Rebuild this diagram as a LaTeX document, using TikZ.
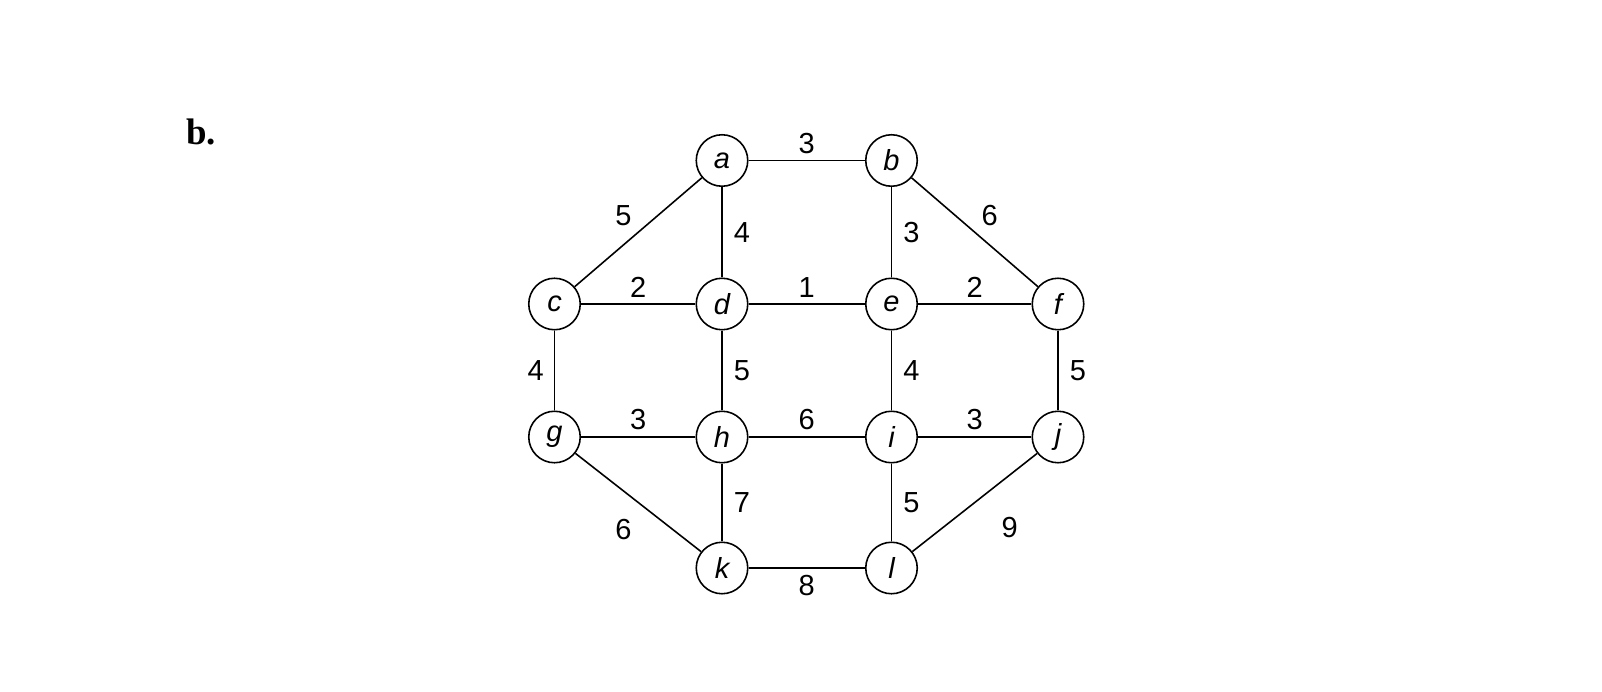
\documentclass[tikz,border=0pt]{standalone}
\usepackage{fontspec}
\setmainfont{Liberation Sans}
\newfontfamily\partfont{Liberation Serif}
\usetikzlibrary{positioning}

\begin{document}
\begin{tikzpicture}[vert/.style={circle,draw,line width=0.9pt,minimum size=1.03cm,inner sep=0pt,font=\fontsize{16.5}{19}\selectfont\itshape},
  wt/.style={font=\fontsize{16.5}{19}\selectfont,inner sep=1.2mm}]
\useasboundingbox (0,0) rectangle (32.04,13.82);
\node[anchor=base west,font=\fontsize{21}{24}\selectfont\partfont\bfseries] (part) at (3.6,10.92) {b.};

% vertices
\node[vert] (a) at (14.44,10.61) {a};
\node[vert] (b) at (17.83,10.61) {b};
\node[vert] (c) at (11.09,7.74) {c};
\node[vert] (d) at (14.44,7.74) {d};
\node[vert] (e) at (17.83,7.74) {e};
\node[vert] (f) at (21.16,7.74) {f};
\node[vert] (g) at (11.09,5.08) {g};
\node[vert] (h) at (14.44,5.08) {h};
\node[vert] (i) at (17.83,5.08) {i};
\node[vert] (j) at (21.16,5.08) {j};
\node[vert] (k) at (14.44,2.46) {k};
\node[vert] (l) at (17.83,2.46) {l};

% edges
\draw[line width=0.9pt] (a) -- node[wt,above] {3} (b);
\draw[line width=0.9pt] (a) -- node[wt,above left] {5} (c);
\draw[line width=0.9pt] (a) -- node[wt,right,xshift=0.1cm] {4} (d);
\draw[line width=0.9pt] (b) -- node[wt,right,xshift=0.1cm] {3} (e);
\draw[line width=0.9pt] (b) -- node[wt,above right] {6} (f);
\draw[line width=0.9pt] (c) -- node[wt,above] {2} (d);
\draw[line width=0.9pt] (d) -- node[wt,above] {1} (e);
\draw[line width=0.9pt] (e) -- node[wt,above] {2} (f);
\draw[line width=0.9pt] (c) -- node[wt,left,xshift=-0.08cm] {4} (g);
\draw[line width=0.9pt] (d) -- node[wt,right,xshift=0.1cm] {5} (h);
\draw[line width=0.9pt] (e) -- node[wt,right,xshift=0.1cm] {4} (i);
\draw[line width=0.9pt] (f) -- node[wt,right,xshift=0.1cm] {5} (j);
\draw[line width=0.9pt] (g) -- node[wt,above] {3} (h);
\draw[line width=0.9pt] (h) -- node[wt,above] {6} (i);
\draw[line width=0.9pt] (i) -- node[wt,above] {3} (j);
\draw[line width=0.9pt] (g) -- node[wt,below left,yshift=-0.2cm] {6} (k);
\draw[line width=0.9pt] (h) -- node[wt,right,xshift=0.1cm] {7} (k);
\draw[line width=0.9pt] (i) -- node[wt,right,xshift=0.1cm] {5} (l);
\draw[line width=0.9pt] (j) -- node[wt,below right,xshift=0.4cm,yshift=-0.15cm] {9} (l);
\draw[line width=0.9pt] (k) -- node[wt,below] {8} (l);

\end{tikzpicture}
\end{document}
